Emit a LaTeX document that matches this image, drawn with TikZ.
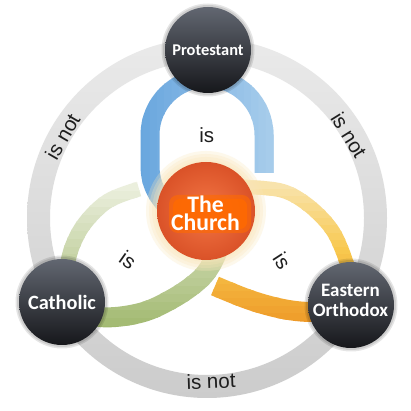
\documentclass[tikz,border=0pt]{standalone}
\usepackage{fontspec}
\setmainfont{Liberation Sans}
\newfontfamily\nodefont{Carlito}
\definecolor{ringtop}{RGB}{234,234,234}
\definecolor{ringbot}{RGB}{204,204,204}
\definecolor{blueL}{RGB}{104,166,222}
\definecolor{blueR}{RGB}{170,206,236}
\definecolor{greenT}{RGB}{240,242,228}
\definecolor{greenB}{RGB}{160,184,110}
\definecolor{orT}{RGB}{248,230,182}
\definecolor{orM}{RGB}{248,200,78}
\definecolor{orB}{RGB}{238,154,40}
\definecolor{darkT}{RGB}{98,103,113}
\definecolor{darkB}{RGB}{22,23,27}
\definecolor{chIn}{RGB}{243,118,68}
\definecolor{chOut}{RGB}{218,82,40}
\definecolor{chPatch}{RGB}{255,106,0}
\definecolor{glowc}{RGB}{250,230,185}
\definecolor{txt}{RGB}{30,30,30}
\tikzset{
  labelfont/.style={font=\fontsize{20.5}{21}\selectfont, text=txt, inner sep=0pt},
  darknode/.style={circle, minimum size=86pt, inner sep=0pt, top color=darkT, bottom color=darkB, text=white, align=center},
  nodetext/.style={text=white, align=center, inner sep=0pt},
  haloring/.style={fill=black, opacity=0.10},
  blueband/.style={line width=19pt, insert path={(264,238) -- (264,276) arc[start angle=0,end angle=180,radius=57] -- (150,246) .. controls (150,228) and (156,214) .. (174,198)}},
  greentop/.style={line width=15pt, insert path={plot[smooth,tension=0.6] coordinates {(139,222) (108,210) (85,188) (72,164) (66,140)}}},
  greenbot/.style={line width=20pt, insert path={plot[smooth,tension=0.6] coordinates {(66,140) (74,106) (100,94) (140,98) (172,112) (198,130) (211,146) (220,166)}}},
  orangetop/.style={line width=14pt, insert path={plot[smooth,tension=0.6] coordinates {(232,225) (250,224) (283,220) (308,206) (330,184) (342,161) (352,131)}}},
  orangebot/.style={line width=20pt, insert path={plot[smooth,tension=0.6] coordinates {(352,131) (338,102) (312,99) (283,102) (250,111) (215,125)}}}
}
\begin{document}
\begin{tikzpicture}[x=1pt,y=1pt]
\useasboundingbox (0,0) rectangle (411,411);
\fill[white] (0,0) rectangle (411,411);
% outer ring
\coordinate (rc) at (207,193);
\shade[top color=ringtop, bottom color=ringbot, even odd rule] (rc) circle (180) (rc) circle (157);
% blue loop (horizontal gradient)
\foreach \i in {0,...,19}{
  \pgfmathsetmacro\xa{135+\i*7.25}
  \pgfmathsetmacro\xb{\xa+8}
  \pgfmathtruncatemacro\p{100*\i/19}
  \begin{scope}
    \clip (\xa,150) rectangle (\xb,350);
    \draw[blueband, draw=blueR!\p!blueL];
  \end{scope}
}
% green loop (vertical gradient)
\foreach \i in {0,...,19}{
  \pgfmathsetmacro\ya{78+\i*7.9}
  \pgfmathsetmacro\yb{\ya+8.6}
  \pgfmathtruncatemacro\p{100*\i/19}
  \begin{scope}
    \clip (30,\ya) rectangle (240,\yb);
    \draw[greentop, draw=greenT!\p!greenB];
    \draw[greenbot, draw=greenT!\p!greenB];
  \end{scope}
}
% orange loop (three-stop vertical gradient)
\foreach \i in {0,...,20}{
  \pgfmathsetmacro\ya{84+\i*7.3}
  \pgfmathsetmacro\yb{\ya+8}
  \pgfmathtruncatemacro\p{\i>10 ? 10*(\i-10) : 10*\i}
  \ifnum\i>10 \colorlet{curc}{orT!\p!orM}\else\colorlet{curc}{orM!\p!orB}\fi
  \begin{scope}
    \clip (195,\ya) rectangle (380,\yb);
    \draw[orangetop, draw=curc];
    \draw[orangebot, draw=curc];
  \end{scope}
}
% church glow and circle
\coordinate (cc) at (206,200);
\foreach \r in {60,57,54,51}{\fill[glowc, opacity=0.28] (cc) circle (\r);}
\node[circle, minimum size=98pt, inner sep=0pt, inner color=chIn, outer color=chOut] (church) at (cc) {};
\fill[chPatch, opacity=0.6, rounded corners=9pt] (169,178) rectangle (251,216);
\fill[chPatch, opacity=0.8, rounded corners=7pt] (173,182) rectangle (247,212);
\node[nodetext, font=\nodefont\bfseries\fontsize{23.7}{18}\selectfont] (churchlbl) at (205.5,198.2) {The\\Church};
% dark nodes with soft halo
\coordinate (pP) at (208,361);
\coordinate (pC) at (62,109);
\coordinate (pE) at (351,106);
\foreach \c in {pP,pC,pE}{
  \fill[haloring] (\c) circle (46.5);
  \fill[haloring] (\c) circle (45);
}
\node[darknode, font=\nodefont\bfseries\fontsize{16.4}{18}\selectfont] (prot) at (pP) {Protestant};
\node[darknode, font=\nodefont\bfseries\fontsize{20.3}{22}\selectfont] (cath) at (pC) {Catholic};
\node[darknode] (orth) at (pE) {};
\node[nodetext, font=\nodefont\bfseries\fontsize{19}{19.3}\selectfont] (orthlbl) at (350.5,110.5) {Eastern\\Orthodox};
% labels
\node[labelfont, rotate=60] (nl) at (62.5,274.3) {is not};
\node[labelfont, rotate=-58] (nr) at (349,276) {is not};
\node[labelfont, rotate=2] (nb) at (211,30) {is not};
\node[labelfont] (ib) at (206.7,276) {is};
\node[labelfont, rotate=-35] (ig) at (128,151) {is};
\node[labelfont, rotate=-57] (io) at (282,150) {is};
\end{tikzpicture}
\end{document}
